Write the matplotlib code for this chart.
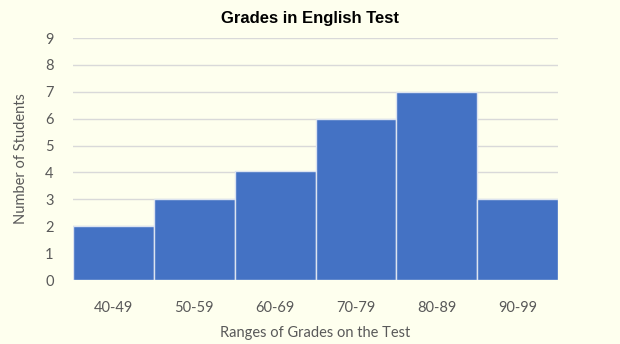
import matplotlib.pyplot as plt

# data
ranges = ['40-49', '50-59', '60-69', '70-79', '80-89', '90-99']
students = [2, 3, 4.05, 6, 7, 3]

bg = '#FEFFEE'
fig = plt.figure(figsize=(6.2, 3.44), dpi=100, facecolor=bg)
ax = fig.add_axes([73/620, 1 - 280/344, 485/620, 242/344], facecolor=bg)

ax.bar(range(len(ranges)), students, width=1.0, color='#4472C4',
       edgecolor='#DCE3F0', linewidth=1.0, zorder=3)

ax.set_xlim(-0.5, len(ranges) - 0.5)
ax.set_ylim(0, 9)
ax.set_yticks(range(10))
ax.set_xticks(range(len(ranges)))
ax.set_xticklabels(ranges)
ax.yaxis.grid(True, color='#D9D9D9', linewidth=1.0, zorder=0)
for s in ax.spines.values():
    s.set_visible(False)
ax.tick_params(length=0, labelsize=10.5, labelcolor='#595959')
ax.tick_params(axis='x', pad=15)
ax.tick_params(axis='y', pad=14)
for lab in ax.get_xticklabels() + ax.get_yticklabels():
    lab.set_family('Lato')

ax.set_xlabel('Ranges of Grades on the Test', fontsize=10.5, color='#595959',
              family='Lato', labelpad=8)
ax.set_ylabel('Number of Students', fontsize=10.5, color='#595959',
              family='Lato', labelpad=12)
fig.text(0.5, 1 - 19/344, 'Grades in English Test', ha='center', va='center',
         fontsize=12, fontweight='bold', family='Liberation Sans', color='black')

fig.savefig('out.png', dpi=100, facecolor=bg)
